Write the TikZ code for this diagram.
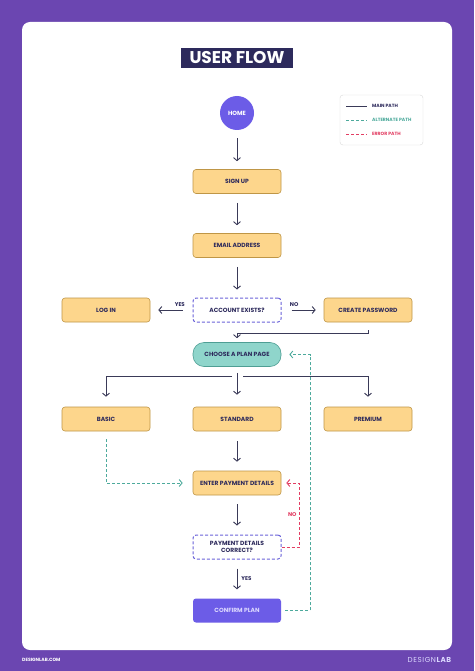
\documentclass[tikz,border=0pt]{standalone}
\usepackage{fontspec}
\setmainfont{Poppins}
\usetikzlibrary{arrows.meta}

\definecolor{bgpurple}{HTML}{6B46B1}
\definecolor{navy}{HTML}{2D2A5C}
\definecolor{linegray}{HTML}{3A3A58}
\definecolor{boxyellow}{HTML}{FDD68C}
\definecolor{boxedge}{HTML}{BF9646}
\definecolor{tealfill}{HTML}{8FD5CB}
\definecolor{tealedge}{HTML}{4E9E94}
\definecolor{tealline}{HTML}{4DAA9C}
\definecolor{errred}{HTML}{E23E63}
\definecolor{homepurple}{HTML}{6C5CE7}
\definecolor{dashpurple}{HTML}{6B63D9}
\definecolor{lavender}{HTML}{DCD8FF}

\tikzset{
  stepbox/.style={rectangle, rounded corners=3pt, minimum width=88pt, minimum height=24pt,
    inner sep=1pt, align=center, text=navy, font=\fontsize{6}{7}\selectfont\bfseries},
  yellowbox/.style={stepbox, fill=boxyellow, draw=boxedge, line width=0.6pt},
  decisionbox/.style={stepbox, fill=white, draw=dashpurple, line width=1pt, dash pattern=on 3pt off 2pt},
  mainarrow/.style={draw=linegray, line width=0.9pt, -{Straight Barb[length=3pt,width=7pt]}},
  altarrow/.style={draw=tealline, line width=0.9pt, dash pattern=on 3pt off 2pt, -{Straight Barb[length=3pt,width=7pt]}},
  errarrow/.style={draw=errred, line width=0.9pt, dash pattern=on 3pt off 2pt, -{Straight Barb[length=3pt,width=7pt]}},
  pathlabel/.style={font=\fontsize{5.5}{6}\selectfont\bfseries, inner sep=1pt},
  legendlabel/.style={anchor=west, inner sep=0pt, font=\fontsize{4.6}{5}\selectfont\bfseries}
}

\begin{document}
\begin{tikzpicture}[x=1pt, y=-1pt]
    % Page and card
    \useasboundingbox (0,0) rectangle (474,671);
    \fill[bgpurple] (0,0) rectangle (474,671);
    \fill[white, rounded corners=8pt] (22,22) rectangle (452,650);

    % Title
    \node[fill=navy, text=white, minimum width=112pt, minimum height=20pt, inner sep=0pt,
          font=\fontsize{17}{17}\selectfont\bfseries] (title) at (237,58) {USER FLOW};

    % Legend
    \node[draw=black!15, rounded corners=3pt, minimum width=83pt, minimum height=50pt] (legend) at (381.5,120) {};
    \draw[linegray, line width=0.9pt] (346,106) -- (367,106);
    \draw[tealline, line width=0.9pt, dash pattern=on 3pt off 2pt] (346,120) -- (367,120);
    \draw[errred, line width=0.9pt, dash pattern=on 3pt off 2pt] (346,134) -- (367,134);
    \node[legendlabel, text=navy] (mainlbl) at (372,106) {MAIN PATH};
    \node[legendlabel, text=tealline] (altlbl) at (372,120) {ALTERNATE PATH};
    \node[legendlabel, text=errred] (errlbl) at (372,134) {ERROR PATH};

    % Flow steps
    \node[circle, fill=homepurple, text=white, minimum size=34pt, inner sep=0pt,
          font=\fontsize{6}{7}\selectfont\bfseries] (home) at (237,113) {HOME};
    \node[yellowbox] (signup) at (237,181.5) {SIGN UP};
    \node[yellowbox] (email) at (237,245.5) {EMAIL ADDRESS};
    \node[decisionbox] (exists) at (237,310) {ACCOUNT EXISTS?};
    \node[yellowbox] (login) at (106,310) {LOG IN};
    \node[yellowbox] (createpw) at (368,310) {CREATE PASSWORD};
    \node[stepbox, rounded corners=11pt, fill=tealfill, draw=tealedge, line width=0.6pt] (choose) at (237,354.5) {CHOOSE A PLAN PAGE};
    \node[yellowbox] (basic) at (106,419) {BASIC};
    \node[yellowbox] (standard) at (237,419) {STANDARD};
    \node[yellowbox] (premium) at (368,419) {PREMIUM};
    \node[yellowbox] (payment) at (237,483) {ENTER PAYMENT DETAILS};
    \node[decisionbox] (paycheck) at (237,547) {PAYMENT DETAILS\\CORRECT?};
    \node[stepbox, fill=homepurple, text=lavender] (confirm) at (237,610.5) {CONFIRM PLAN};

    % Main path
    \draw[mainarrow, shorten <=8pt, shorten >=8pt] (home) -- (signup);
    \draw[mainarrow, shorten <=9pt, shorten >=8pt] (signup) -- (email);
    \draw[mainarrow, shorten <=9pt, shorten >=8pt] (email) -- (exists);
    \draw[mainarrow, shorten <=10pt, shorten >=8pt] (exists) -- node[pathlabel, above=2pt, text=navy, pos=0.3] {YES} (login);
    \draw[mainarrow, shorten <=10pt, shorten >=8pt] (exists) -- node[pathlabel, above=2pt, text=navy, pos=0.3] {NO} (createpw);
    \coordinate (pwcorner) at (368,333.5);
    \draw[mainarrow, shorten <=8pt, shorten >=4pt] (createpw) -- (pwcorner) -| (choose);
    \draw[mainarrow, shorten <=6pt, shorten >=12pt] (choose) -- (standard);
    \coordinate (branchL) at (232,376);
    \coordinate (branchR) at (243,376);
    \draw[mainarrow, shorten >=10pt] (branchL) -| (basic);
    \draw[mainarrow, shorten >=10pt] (branchR) -| (premium);
    \draw[mainarrow, shorten <=10pt, shorten >=9pt] (standard) -- (payment);
    \draw[mainarrow, shorten <=9pt, shorten >=9pt] (payment) -- (paycheck);
    \draw[mainarrow, shorten <=9pt, shorten >=9pt] (paycheck) -- node[pathlabel, right=3pt, text=navy] {YES} (confirm);

    % Alternate paths
    \draw[altarrow, shorten <=8pt, shorten >=10pt] (basic) |- (payment);
    \coordinate (altcorner) at (310,354.5);
    \draw[altarrow, shorten <=4pt, shorten >=8pt] (confirm) -| (altcorner) -- (choose);

    % Error path
    \coordinate (errcorner) at (299,483);
    \draw[errarrow, shorten >=5pt] (paycheck) -| node[pathlabel, pos=0.75, left=1pt, text=errred] {NO} (errcorner) -- (payment);

    % Footer
    \node[anchor=west, text=white, inner sep=0pt, font=\fontsize{4.6}{5}\selectfont\bfseries] (site) at (22,660) {DESIGNLAB.COM};
    \node[anchor=east, text=lavender, inner sep=0pt, font=\fontsize{7.2}{8}\selectfont\addfontfeature{LetterSpace=8}] (brand) at (452,659.5) {DESIGN\textbf{LAB}};
\end{tikzpicture}
\end{document}
